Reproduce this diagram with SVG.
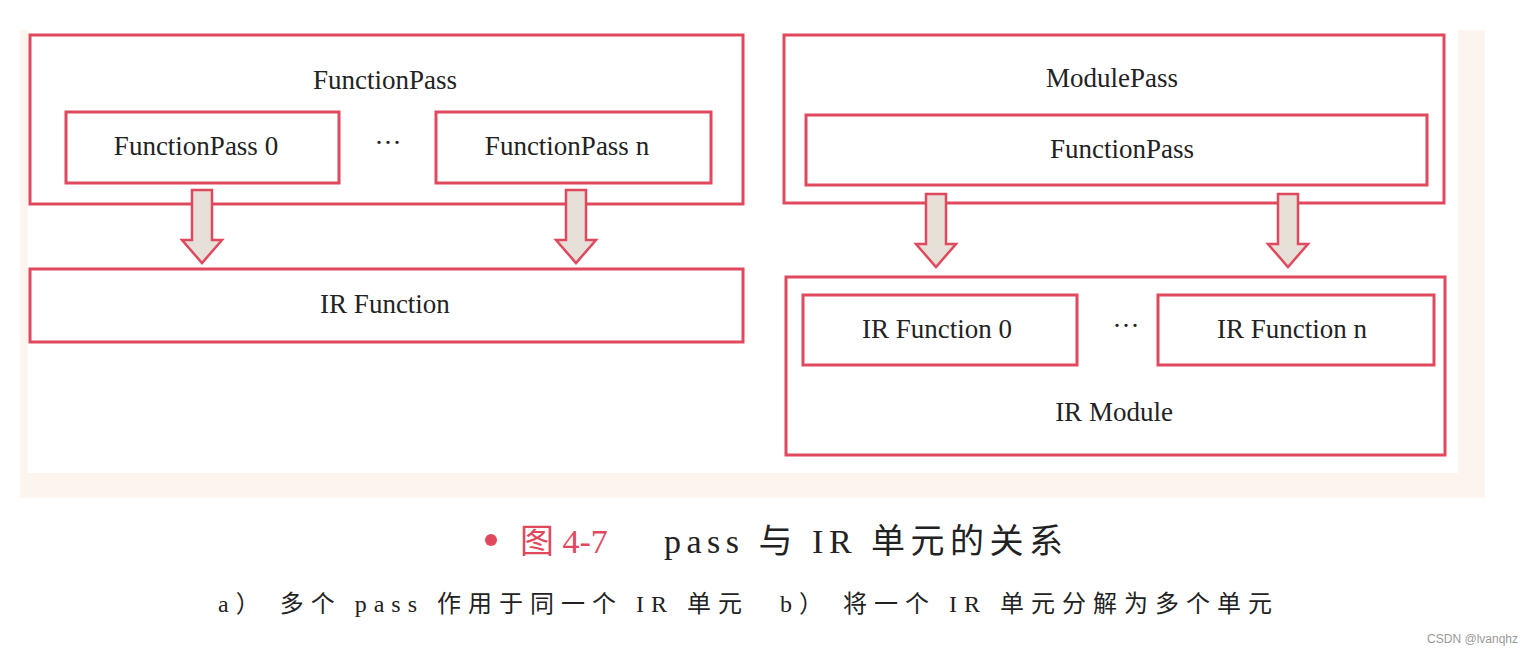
<svg xmlns="http://www.w3.org/2000/svg" width="1532" height="656" viewBox="0 0 1532 656">
<style>
.b{fill:#fff;stroke:#e0485e;stroke-width:3}
.t{font-family:"Liberation Serif",serif;font-size:27px;fill:#222;text-anchor:middle}
.a{fill:#e6e0d8;stroke:#e0485e;stroke-width:2.5;stroke-linejoin:miter}
.c{font-family:"Liberation Serif","Noto Sans CJK SC",serif;fill:#222}
</style>
<defs><path id="ar" class="a" d="M-10,0 H10 V50 H20 L0,73 L-20,50 H-10 Z"/></defs>
<rect width="1532" height="656" fill="#fff"/>
<rect x="20" y="30" width="1465" height="468" fill="#fcf4ee"/>
<rect x="28" y="28" width="1430" height="445" fill="#fff"/>
<g id="fp"><rect class="b" x="30" y="35" width="713" height="169"/><text class="t" x="385" y="89">FunctionPass</text></g>
<g id="fp0"><rect class="b" x="66" y="112" width="273" height="71"/><text class="t" x="196" y="155">FunctionPass 0</text></g>
<g id="dots1"><text class="t" x="388" y="152">···</text></g>
<g id="fpn"><rect class="b" x="436" y="112" width="275" height="71"/><text class="t" x="567" y="155">FunctionPass n</text></g>
<g id="irf"><rect class="b" x="30" y="269" width="713" height="73"/><text class="t" x="385" y="313">IR Function</text></g>
<g id="mp"><rect class="b" x="784" y="35" width="660" height="168"/><text class="t" x="1112" y="87">ModulePass</text></g>
<g id="mfp"><rect class="b" x="806" y="115" width="621" height="70"/><text class="t" x="1122" y="158">FunctionPass</text></g>
<g id="irm"><rect class="b" x="786" y="277" width="659" height="178"/><text class="t" x="1114" y="421">IR Module</text></g>
<g id="irf0"><rect class="b" x="803" y="295" width="274" height="70"/><text class="t" x="937" y="338">IR Function 0</text></g>
<g id="dots2"><text class="t" x="1126" y="335">···</text></g>
<g id="irfn"><rect class="b" x="1158" y="295" width="276" height="70"/><text class="t" x="1292" y="338">IR Function n</text></g>
<g id="connectors">
<use href="#ar" x="202" y="190"/>
<use href="#ar" x="576" y="190"/>
<use href="#ar" x="936" y="194"/>
<use href="#ar" x="1288" y="194"/>
</g>
<circle cx="491" cy="540" r="6" fill="#e0485e"/>
<text class="c" x="520" y="553" font-size="34" style="fill:#e0485e">图 4-7</text>
<text class="c" x="664" y="553" font-size="34" letter-spacing="5.5">pass 与 IR 单元的关系</text>
<text class="c" x="218" y="612" font-size="24" letter-spacing="7">a） 多个 pass 作用于同一个 IR 单元　b） 将一个 IR 单元分解为多个单元</text>
<text x="1518" y="643" font-family="Liberation Sans,sans-serif" font-size="12" fill="#999" text-anchor="end">CSDN @lvanqhz</text>
</svg>
